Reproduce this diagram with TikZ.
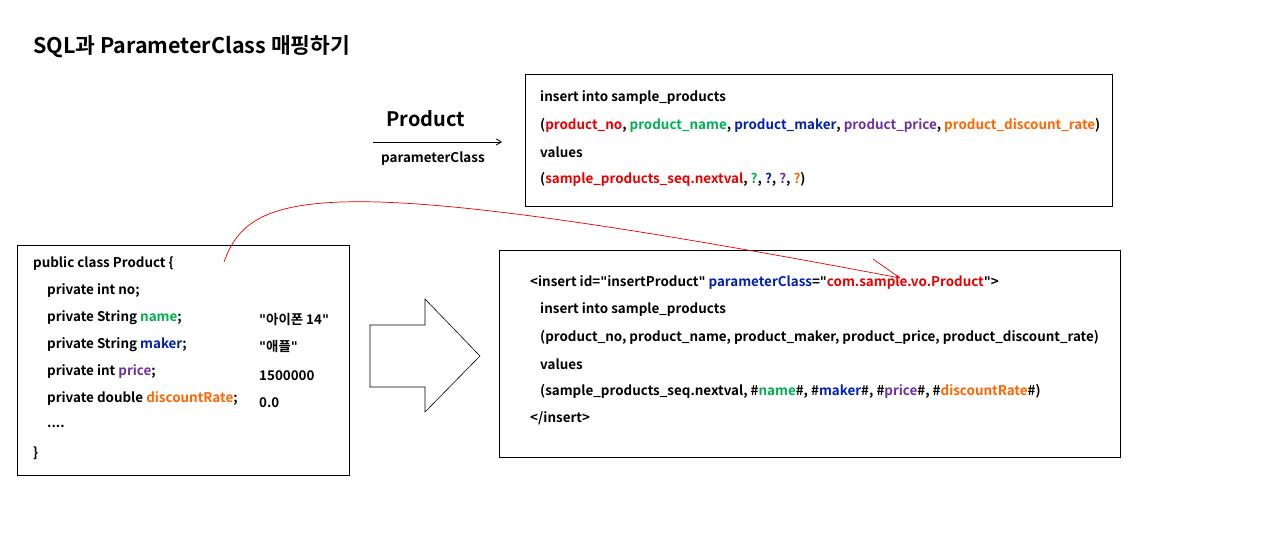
\documentclass[tikz,border=0pt]{standalone}
\usepackage{fontspec}
\setmainfont{Noto Sans CJK KR}[BoldFont={Noto Sans CJK KR Bold}]
\newfontfamily\qf{DejaVu Sans}
\usetikzlibrary{arrows.meta}
\definecolor{cr}{RGB}{230,0,0}
\definecolor{cg}{RGB}{0,176,80}
\definecolor{cb}{RGB}{0,32,176}
\definecolor{cp}{RGB}{112,48,160}
\definecolor{co}{RGB}{255,102,0}
\newcommand\qq{{\qf\bfseries\symbol{34}}}
\begin{document}
\begin{tikzpicture}[x=1pt,y=-1pt,
  t/.style={anchor=west,inner sep=0pt,font=\fontsize{13.4}{15}\selectfont\bfseries},
  box/.style={draw=black,line width=0.8pt}]
\useasboundingbox (0,0) rectangle (1280,559);
\node[t,font=\fontsize{21.5}{24}\selectfont\bfseries] (title) at (33,47) {SQL과 ParameterClass 매핑하기};
% top box
\draw[box] (525,74) rectangle (1112,206);
\node[t] (a1) at (540,98) {insert into sample\_products};
\node[t] (a2) at (540,125) {(\textcolor{cr}{product\_no}, \textcolor{cg}{product\_name}, \textcolor{cb}{product\_maker}, \textcolor{cp}{product\_price}, \textcolor{co}{product\_discount\_rate})};
\node[t] (a3) at (540,152) {values};
\node[t] (a4) at (540,179) {(\textcolor{cr}{sample\_products\_seq.nextval}, \textcolor{cg}{?}, \textcolor{cb}{?}, \textcolor{cp}{?}, \textcolor{co}{?})};
% product arrow
\node[t,font=\fontsize{20}{22}\selectfont\bfseries] (prod) at (386,119) {Product};
\coordinate (p1) at (373,142); \coordinate (p2) at (502,142);
\draw[line width=0.8pt,-{Straight Barb[length=5pt,width=6pt]}] (p1) -- (p2);
\node[t] (pc) at (381,159) {parameterClass};
% left box
\draw[box] (17,245) rectangle (349,475);
\node[t] (b1) at (33,264) {public class Product \{};
\node[t] (b2) at (47,291) {private int no;};
\node[t] (b3) at (47,318) {private String \textcolor{cg}{name};};
\node[t] (b4) at (47,345) {private String \textcolor{cb}{maker};};
\node[t] (b5) at (47,372) {private int \textcolor{cp}{price};};
\node[t] (b6) at (47,399) {private double \textcolor{co}{discountRate};};
\node[t] (b7) at (47,426) {....};
\node[t] (b8) at (33,453) {\}};
\node[t] (v1) at (259,319) {\qq 아이폰 14\qq};
\node[t] (v2) at (259,346) {\qq 애플\qq};
\node[t] (v3) at (259,376) {1500000};
\node[t] (v4) at (259,403) {0.0};
% big arrow
\draw[line width=0.6pt] (370,325) -- (425,325) -- (425,299) -- (480,356) -- (425,412) -- (425,387) -- (370,387) -- cycle;
% bottom box
\draw[box] (499,250) rectangle (1120,457);
\node[t] (c1) at (530,283) {<insert id=\qq insertProduct\qq\ \textcolor{cb}{parameterClass}=\qq\textcolor{cr}{com.sample.vo.Product}\qq>};
\node[t] (c2) at (540,310) {insert into sample\_products};
\node[t] (c3) at (540,337) {(product\_no, product\_name, product\_maker, product\_price, product\_discount\_rate)};
\node[t] (c4) at (540,364) {values};
\node[t] (c5) at (540,391) {(sample\_products\_seq.nextval, \#\textcolor{cg}{name}\#, \#\textcolor{cb}{maker}\#, \#\textcolor{cp}{price}\#, \#\textcolor{co}{discountRate}\#)};
\node[t] (c6) at (530,418) {</insert>};
% red curve with single barb
\coordinate (r1) at (224,262); \coordinate (r2) at (900,278); \coordinate (r3) at (873,259);
\draw[cr,line width=0.7pt] (r1) .. controls (250,190) and (320,168) .. (r2);
\draw[cr,line width=0.7pt] (r3) -- (r2);
\end{tikzpicture}
\end{document}
